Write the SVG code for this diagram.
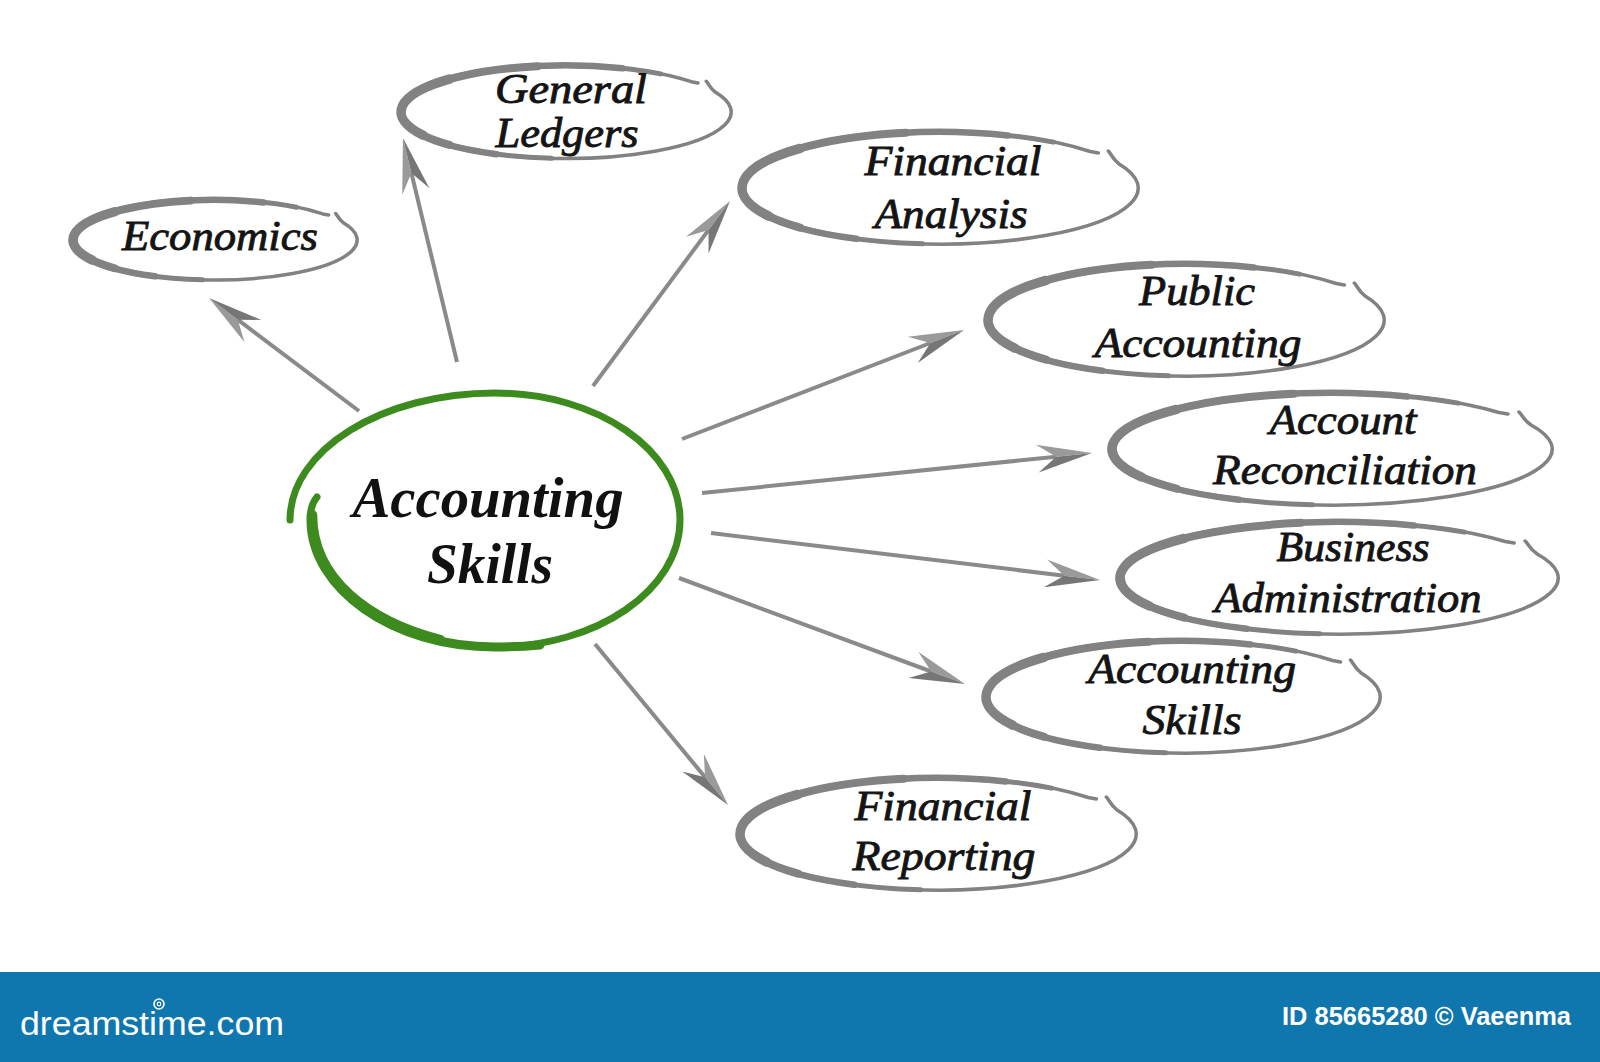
<svg xmlns="http://www.w3.org/2000/svg" xmlns:xlink="http://www.w3.org/1999/xlink" width="1600" height="1062" viewBox="0 0 1600 1062">
<style>
.lbl{font-family:"Liberation Serif","Times New Roman",serif;font-style:italic;font-size:42px;fill:#141414;stroke:#141414;stroke-width:0.9;text-anchor:middle}
.big{font-family:"Liberation Serif","Times New Roman",serif;font-style:italic;font-weight:bold;font-size:56px;fill:#111;text-anchor:middle}
.o{fill:none;stroke:#828282;stroke-linecap:round;vector-effect:non-scaling-stroke}
.arr{stroke:#8a8a8a;stroke-width:4;fill:none;marker-end:url(#head)}
.g1{fill:none;stroke:#3d8b1f;stroke-linecap:round}
.ft{font-family:"Liberation Sans",Arial,sans-serif;fill:#fff}
</style>
<defs>
<marker id="head" markerUnits="userSpaceOnUse" orient="auto" viewBox="-20 -15 57 30" refX="0" refY="0" markerWidth="57" markerHeight="30" overflow="visible">
<polygon points="36,0 -19,-14 0,0" fill="#9a9a9a"/>
<polygon points="36,0 0,0 -19,14" fill="#767676"/>
</marker>
<g id="oval">
<path class="o" stroke-width="3.5" d="M170,-37 C173,-34 174,-29 181.3,-23.7 A200,56 0 0 1 -153.2,36 A200,56 0 0 1 151.8,-36.5 L160,-35"/>
<path class="o" stroke-width="5" d="M-17.4,55.8 A200,56 0 1 1 114.7,-45.9"/>
<path class="o" stroke-width="6.5" d="M-84.5,50.8 A200,56 0 0 1 68.4,-52.6"/>
<path class="o" stroke-width="8" d="M-141.4,39.6 A200,56 0 0 1 -34.7,-55.15"/>
<path class="o" stroke-width="9.5" d="M-173.2,28 A200,56 0 0 1 -141.4,-39.6"/>
</g>
</defs>
<rect width="1600" height="1062" fill="#fff"/>

<g id="connectors">
<path class="arr" d="M359,411 L237.8,319.7"/>
<path class="arr" d="M457,362 L411.4,173"/>
<path class="arr" d="M593,386 L708.6,229.9"/>
<path class="arr" d="M682,439 L930.4,343"/>
<path class="arr" d="M702,493 L1056.2,456.7"/>
<path class="arr" d="M711,533 L1064.3,575.7"/>
<path class="arr" d="M679,578 L931.2,671.5"/>
<path class="arr" d="M595,644 L705.1,777.2"/>
</g>

<g id="center">
<path class="g1" stroke-width="7" d="M290,520 C290,450 382,393 495,393 C597,393 680,450 680,520 C680,590 597,647 495,647 C393,647 310,590 310,520 C310,510 312,503 317,497"/>
<path class="g1" stroke-width="9" d="M540,645 C520,647 505,647 495,647 C393,647 310,590 312,515"/>
<path class="g1" stroke-width="10.5" d="M440,640 C370,622 312,580 312,515"/>
<text class="big" x="488" y="517" textLength="271" lengthAdjust="spacingAndGlyphs">Accounting</text>
<text class="big" x="490" y="583" textLength="126" lengthAdjust="spacingAndGlyphs">Skills</text>
</g>

<g id="economics">
<use xlink:href="#oval" href="#oval" transform="translate(215,240) scale(0.71,0.714)"/>
<text class="lbl" x="220" y="250" textLength="196" lengthAdjust="spacingAndGlyphs">Economics</text>
</g>

<g id="general-ledgers">
<use xlink:href="#oval" href="#oval" transform="translate(566,112) scale(0.825,0.83)"/>
<text class="lbl" x="571" y="103" font-size="40" textLength="152" lengthAdjust="spacingAndGlyphs">General</text>
<text class="lbl" x="567" y="147" font-size="40" textLength="143" lengthAdjust="spacingAndGlyphs">Ledgers</text>
</g>

<g id="financial-analysis">
<use xlink:href="#oval" href="#oval" transform="translate(940,188) scale(0.99,1)"/>
<text class="lbl" x="953" y="175" textLength="177" lengthAdjust="spacingAndGlyphs">Financial</text>
<text class="lbl" x="951" y="228" textLength="153" lengthAdjust="spacingAndGlyphs">Analysis</text>
</g>

<g id="public-accounting">
<use xlink:href="#oval" href="#oval" transform="translate(1186,320) scale(0.99,1)"/>
<text class="lbl" x="1197" y="305" textLength="116" lengthAdjust="spacingAndGlyphs">Public</text>
<text class="lbl" x="1198" y="357" textLength="207" lengthAdjust="spacingAndGlyphs">Accounting</text>
</g>

<g id="account-reconciliation">
<use xlink:href="#oval" href="#oval" transform="translate(1332,449) scale(1.1,1)"/>
<text class="lbl" x="1343" y="434" textLength="147" lengthAdjust="spacingAndGlyphs">Account</text>
<text class="lbl" x="1345" y="484" textLength="264" lengthAdjust="spacingAndGlyphs">Reconciliation</text>
</g>

<g id="business-administration">
<use xlink:href="#oval" href="#oval" transform="translate(1339,578) scale(1.095,1)"/>
<text class="lbl" x="1353" y="561" textLength="153" lengthAdjust="spacingAndGlyphs">Business</text>
<text class="lbl" x="1348" y="612" textLength="267" lengthAdjust="spacingAndGlyphs">Administration</text>
</g>

<g id="accounting-skills">
<use xlink:href="#oval" href="#oval" transform="translate(1183,697) scale(0.985,1)"/>
<text class="lbl" x="1192" y="683" textLength="208" lengthAdjust="spacingAndGlyphs">Accounting</text>
<text class="lbl" x="1192" y="734" textLength="99" lengthAdjust="spacingAndGlyphs">Skills</text>
</g>

<g id="financial-reporting">
<use xlink:href="#oval" href="#oval" transform="translate(938,834) scale(0.99,1)"/>
<text class="lbl" x="943" y="820" textLength="177" lengthAdjust="spacingAndGlyphs">Financial</text>
<text class="lbl" x="944" y="870" textLength="183" lengthAdjust="spacingAndGlyphs">Reporting</text>
</g>

<g id="footer">
<rect x="0" y="972" width="1600" height="90" fill="#0f77ae"/>
<text class="ft" x="20" y="1035" font-size="34" textLength="264" lengthAdjust="spacingAndGlyphs">dreamstime.com</text>
<circle cx="159" cy="1004" r="5" fill="none" stroke="#fff" stroke-width="1.6"/>
<circle cx="159" cy="1004" r="1.8" fill="none" stroke="#fff" stroke-width="1.2"/>
<text class="ft" x="1282" y="1025" font-size="25" font-weight="bold" textLength="289" lengthAdjust="spacingAndGlyphs">ID 85665280 © Vaeenma</text>
</g>
</svg>
